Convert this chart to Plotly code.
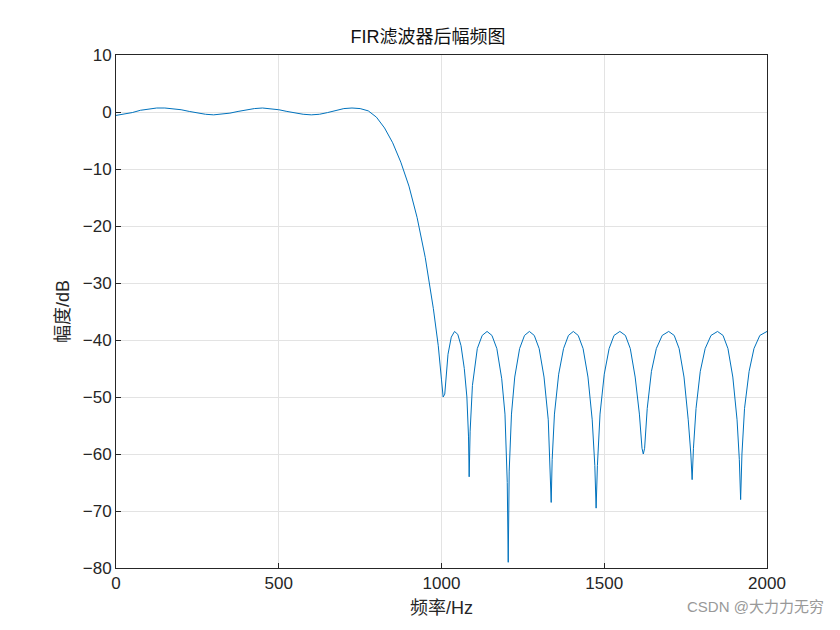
import plotly.graph_objects as go

# frequency (Hz) and magnitude (dB)
freq = [0, 25, 50, 75, 100, 125, 150, 175, 200, 225, 250, 275, 300, 325, 350, 375,
        400, 425, 450, 475, 500, 525, 550, 575, 600, 625, 650, 675, 700, 725, 750,
        775, 800, 825, 850, 875, 900, 925, 950, 975, 990, 1000, 1005, 1010,
        1020, 1030, 1040, 1050, 1060, 1070, 1078, 1083, 1085, 1088, 1095, 1110, 1125,
        1140, 1155, 1170, 1185, 1195, 1202, 1205, 1208, 1215, 1225, 1240, 1255,
        1270, 1285, 1300, 1315, 1328, 1334, 1337, 1340, 1347, 1360, 1375, 1390,
        1405, 1420, 1435, 1450, 1463, 1471, 1475, 1479, 1487, 1500, 1515, 1530,
        1548, 1565, 1580, 1595, 1608, 1616, 1620, 1624, 1632, 1645, 1660, 1678,
        1698, 1715, 1730, 1745, 1758, 1766, 1770, 1774, 1782, 1795, 1810, 1828,
        1848, 1865, 1880, 1895, 1908, 1915, 1919, 1923, 1931, 1945, 1960, 1978, 2000]
mag_db = [-0.6, -0.4, -0.1, 0.3, 0.5, 0.7, 0.7, 0.6, 0.4, 0.1, -0.2, -0.4, -0.5, -0.4, -0.2, 0.1,
          0.4, 0.6, 0.7, 0.6, 0.4, 0.1, -0.2, -0.4, -0.5, -0.4, -0.1, 0.3, 0.6, 0.7, 0.6,
          0.2, -0.9, -2.8, -5.4, -8.8, -13.0, -18.5, -25.5, -34.5, -41, -47, -50, -49.5,
          -42.5, -39.5, -38.5, -39, -41, -45, -50, -57, -64, -56, -48, -41.5, -39.2,
          -38.5, -39.2, -41.5, -46.8, -53, -65, -79, -63, -53, -46.5, -41.5, -39.2,
          -38.5, -39.2, -41.5, -46.5, -54, -62, -68.5, -61, -53, -46, -41.5, -39.2,
          -38.5, -39.2, -41.5, -46.5, -54, -62, -69.5, -62, -53, -46, -41.5, -39.2,
          -38.5, -39.2, -41.5, -46.5, -53, -59, -60, -59, -52, -45.5, -41.5, -39.2,
          -38.5, -39.2, -41.5, -46.5, -54, -60, -64.5, -59, -52, -45.5, -41.5, -39.2,
          -38.5, -39.2, -41.5, -46.5, -54, -61, -68, -60, -52, -45.5, -41.5, -39.2, -38.5]

font = "Liberation Sans, Noto Sans CJK SC, sans-serif"

fig = go.Figure(go.Scatter(x=freq, y=mag_db, mode="lines",
                           line=dict(color="#0072BD", width=1)))

axis = dict(showgrid=True, gridcolor="#e3e3e3", showline=True, linecolor="#262626",
            mirror=True, ticks="inside", ticklen=5, tickcolor="#262626", zeroline=False,
            automargin=False, tickfont=dict(size=17, color="#262626"))
fig.update_xaxes(range=[0, 2000], dtick=500, title=dict(text="频率/Hz", font=dict(size=18), standoff=8), **axis)
fig.update_yaxes(range=[-80, 10], dtick=10, title=dict(text="幅度/dB", font=dict(size=18), standoff=8), **axis)

fig.update_layout(
    width=840, height=630, margin=dict(l=108, r=81, t=47, b=70, autoexpand=False),
    paper_bgcolor="white", plot_bgcolor="white", showlegend=False,
    font=dict(family=font, color="#262626"),
    title=dict(text="FIR滤波器后幅频图", x=0.5, xanchor="center", y=0.965, font=dict(size=18, color="#111")),
    annotations=[dict(text="CSDN @大力力无穷", xref="paper", yref="paper", x=1.09, y=-0.095,
                      xanchor="right", showarrow=False, font=dict(size=15, color="#999"))],
)

fig.write_html("out.html")
